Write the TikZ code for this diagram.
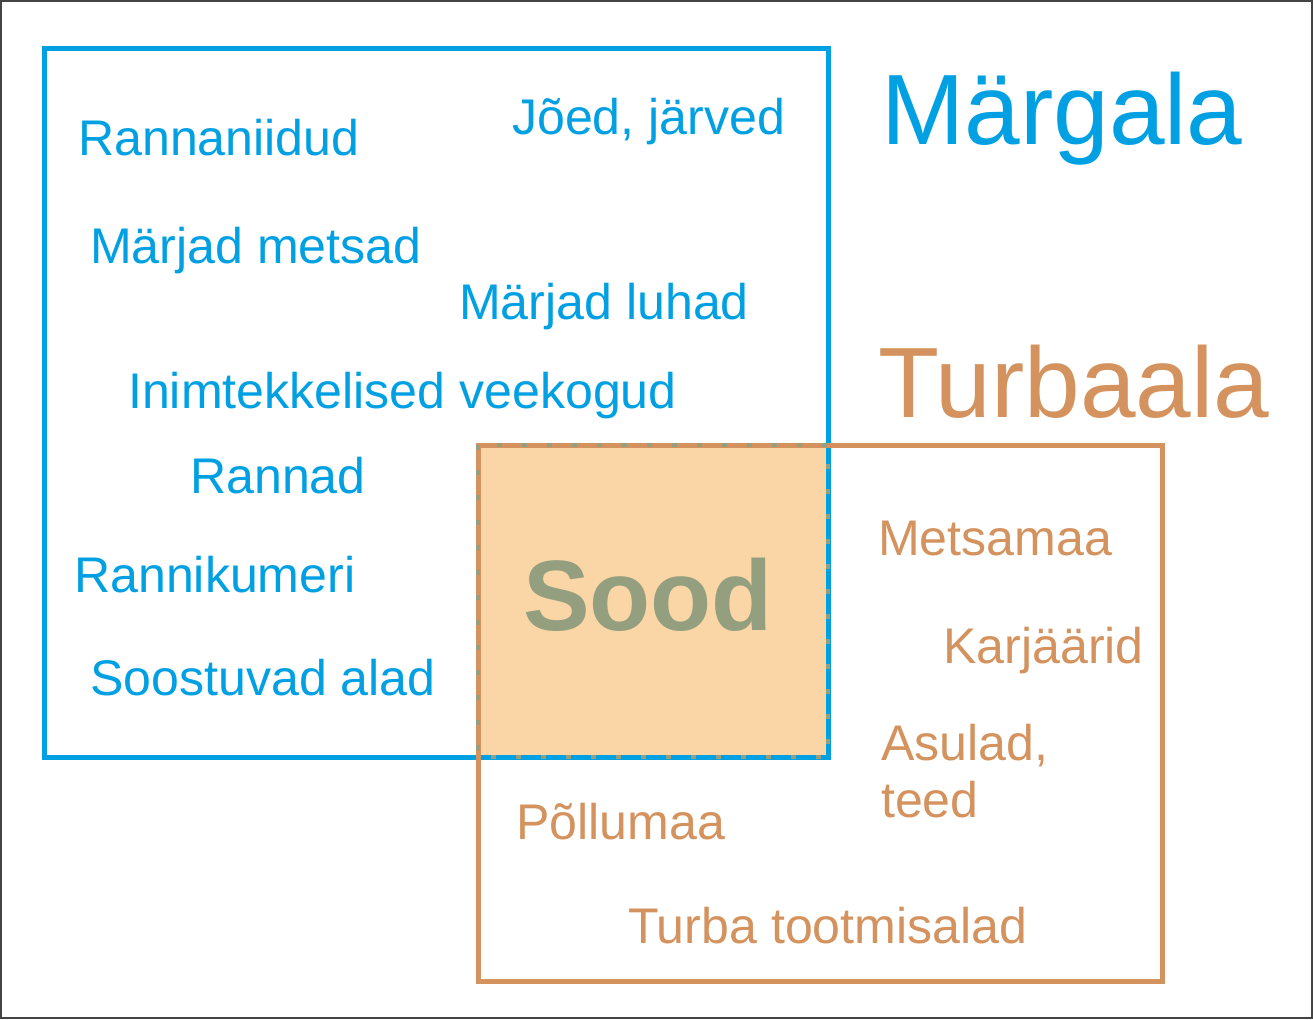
\documentclass[tikz,border=0pt]{standalone}
\usepackage{fontspec}
\setmainfont{Liberation Sans}
\definecolor{wetblue}{HTML}{00A0E3}
\definecolor{peatbrown}{HTML}{D4935E}
\definecolor{bogfill}{HTML}{FAD5A6}
\definecolor{boggreen}{HTML}{939F7E}
\definecolor{framegray}{HTML}{444444}
\begin{document}
\begin{tikzpicture}[x=1pt,y=-1pt,
  wet/.style={text=wetblue,anchor=base west,inner sep=0pt,font=\fontsize{50.1}{56}\selectfont},
  peat/.style={text=peatbrown,anchor=base west,inner sep=0pt,font=\fontsize{50.1}{56}\selectfont},
  title/.style={anchor=base west,inner sep=0pt,font=\fontsize{100}{110}\selectfont}]

\useasboundingbox (0,0) rectangle (1313,1019);
\draw [framegray,line width=2pt] (1,1) rectangle (1312,1018);

%soo
\coordinate (S1) at (478,445);
\coordinate (S2) at (828,757);
\fill [bogfill] (S1) rectangle (S2);

%margala
\draw [wetblue,line width=5pt] (44,49) rectangle (S2);
%turbaala
\draw [peatbrown,line width=5pt] (S1) rectangle (1162,981);
\draw [boggreen,line width=4pt,dash pattern=on 5pt off 20pt] (S1) rectangle (S2);

\node[title,text=wetblue] (M) at (881,145) {Märgala};
\node[title,text=peatbrown] (T) at (878,417) {Turbaala};
\node[anchor=base,inner sep=0pt,text=boggreen,font=\fontsize{100}{110}\selectfont\bfseries] (S) at (648,630) {Sood};

\node[wet] (w1) at (78,156) {Rannaniidud};
\node[wet] (w2) at (512,135) {Jõed, järved};
\node[wet] (w3) at (90,263) {Märjad metsad};
\node[wet] (w4) at (459,319) {Märjad luhad};
\node[wet] (w5) at (128,408) {Inimtekkelised veekogud};
\node[wet] (w6) at (190,493) {Rannad};
\node[wet] (w7) at (74,592) {Rannikumeri};
\node[wet] (w8) at (90,695) {Soostuvad alad};

\node[peat] (p1) at (878,555) {Metsamaa};
\node[peat] (p2) at (943,663) {Karjäärid};
\node[peat] (p3) at (881,760) {Asulad,};
\node[peat] (p4) at (881,817) {teed};
\node[peat] (p5) at (516,839) {Põllumaa};
\node[peat] (p6) at (628,943) {Turba tootmisalad};
\end{tikzpicture}
\end{document}
